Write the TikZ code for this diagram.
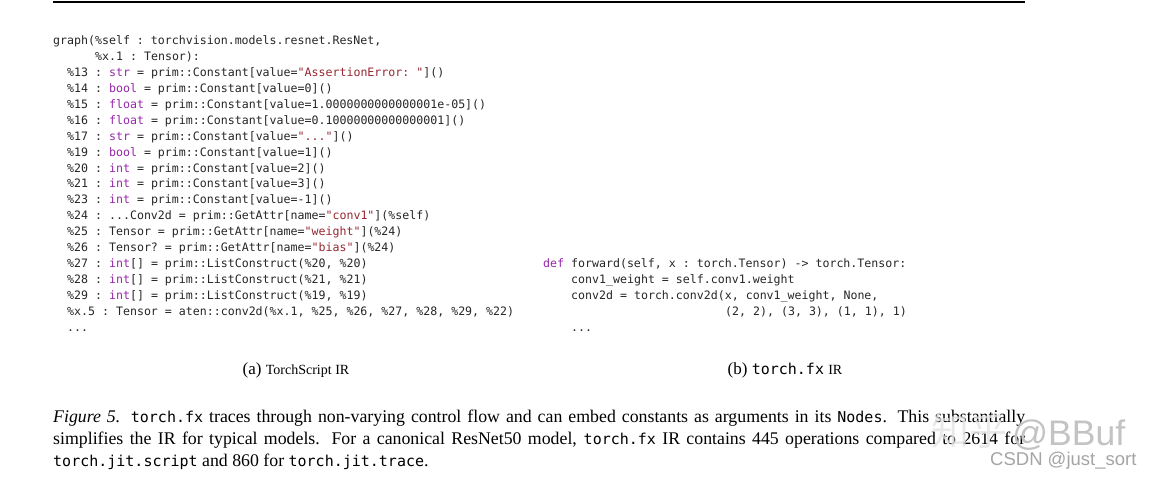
\documentclass[tikz,border=0pt]{standalone}
\usepackage{fontspec}
\setmainfont{Liberation Serif}
\setmonofont{DejaVu Sans Mono}
\newfontfamily\cjkwm{Noto Sans CJK SC}
\newfontfamily\wmfont{Liberation Sans}
\definecolor{kw}{RGB}{150,40,170}
\definecolor{strc}{RGB}{150,40,50}
\definecolor{wmgray}{RGB}{195,195,195}
\definecolor{wmcjk}{RGB}{228,228,228}
\definecolor{wmcsdn}{RGB}{165,165,165}
\newcommand{\kw}[1]{\textcolor{kw}{#1}}
\newcommand{\st}[1]{\textcolor{strc}{#1}}
\tikzset{
  code/.style={anchor=base west,inner sep=0pt,font=\fontsize{11.6}{13}\ttfamily,text=black!85},
  captext/.style={anchor=base west,inner sep=0pt,font=\fontsize{17.8}{20}\selectfont,text=black},
  subcap/.style={anchor=base,inner sep=0pt,font=\fontsize{17}{20}\selectfont,text=black}
}
\newcommand{\smallrm}[1]{{\fontsize{14}{16}\selectfont #1}}
\newcommand{\tts}[1]{{\fontsize{15}{18}\ttfamily #1}}
\begin{document}
\begin{tikzpicture}[x=1pt,y=-1pt]
\useasboundingbox (0,0) rectangle (1152,478);
\fill[white] (0,0) rectangle (1152,478);
\coordinate (ruleL) at (53,2);
\coordinate (ruleR) at (1025,2);
\draw[line width=1.6pt,black] (ruleL) -- (ruleR);
\node[code] (a1) at (53,45) {graph(\%self : torchvision.models.resnet.ResNet,};
\node[code] (a2) at (95,61) {\%x.1 : Tensor):};
\node[code] (a3) at (67,77) {\%13 : \kw{str} = prim::Constant[value=\st{"AssertionError: "}]()};
\node[code] (a4) at (67,93) {\%14 : \kw{bool} = prim::Constant[value=0]()};
\node[code] (a5) at (67,109) {\%15 : \kw{float} = prim::Constant[value=1.0000000000000001e-05]()};
\node[code] (a6) at (67,125) {\%16 : \kw{float} = prim::Constant[value=0.10000000000000001]()};
\node[code] (a7) at (67,141) {\%17 : \kw{str} = prim::Constant[value=\st{"..."}]()};
\node[code] (a8) at (67,157) {\%19 : \kw{bool} = prim::Constant[value=1]()};
\node[code] (a9) at (67,173) {\%20 : \kw{int} = prim::Constant[value=2]()};
\node[code] (a10) at (67,188) {\%21 : \kw{int} = prim::Constant[value=3]()};
\node[code] (a11) at (67,204) {\%23 : \kw{int} = prim::Constant[value=-1]()};
\node[code] (a12) at (67,220) {\%24 : ...Conv2d = prim::GetAttr[name=\st{"conv1"}](\%self)};
\node[code] (a13) at (67,236) {\%25 : Tensor = prim::GetAttr[name=\st{"weight"}](\%24)};
\node[code] (a14) at (67,252) {\%26 : Tensor? = prim::GetAttr[name=\st{"bias"}](\%24)};
\node[code] (a15) at (67,268) {\%27 : \kw{int}[] = prim::ListConstruct(\%20, \%20)};
\node[code] (a16) at (67,284) {\%28 : \kw{int}[] = prim::ListConstruct(\%21, \%21)};
\node[code] (a17) at (67,300) {\%29 : \kw{int}[] = prim::ListConstruct(\%19, \%19)};
\node[code] (a18) at (67,316) {\%x.5 : Tensor = aten::conv2d(\%x.1, \%25, \%26, \%27, \%28, \%29, \%22)};
\node[code] (a19) at (67,332) {...};
\node[code] (b1) at (543,268) {\kw{def} forward(self, x : torch.Tensor) -> torch.Tensor:};
\node[code] (b2) at (571,284) {conv1\_weight = self.conv1.weight};
\node[code] (b3) at (571,300) {conv2d = torch.conv2d(x, conv1\_weight, None,};
\node[code] (b4) at (725,316) {(2, 2), (3, 3), (1, 1), 1)};
\node[code] (b5) at (571,332) {...};
\node[subcap] (capa) at (296,374) {(a) \smallrm{TorchScript IR}};
\node[subcap] (capb) at (785,374) {(b) \tts{torch.fx} \smallrm{IR}};
\node[captext] (c1) at (53,422) {\hbox to 972pt{\textit{Figure 5.} \tts{torch.fx} traces through non-varying control flow and can embed constants as arguments in its \tts{Nodes}. This substantially}};
\node[captext] (c2) at (53,444) {\hbox to 972pt{simplifies the IR for typical models. For a canonical ResNet50 model, \tts{torch.fx} IR contains 445 operations compared to 2614 for}};
\node[captext] (c3) at (53,466) {\tts{torch.jit.script} and 860 for \tts{torch.jit.trace}.};
\node[anchor=base west,inner sep=0pt,font=\fontsize{38}{42}\cjkwm,text=wmcjk,opacity=.8] (w0) at (931,446) {知乎};
\node[anchor=base west,inner sep=0pt,font=\fontsize{35.5}{39}\wmfont,text=wmgray] (w1) at (1012,445) {@BBuf};
\node[anchor=base west,inner sep=0pt,font=\fontsize{18.5}{21}\wmfont,text=wmcsdn] (w2) at (990,465) {CSDN @just\_sort};
\end{tikzpicture}
\end{document}
